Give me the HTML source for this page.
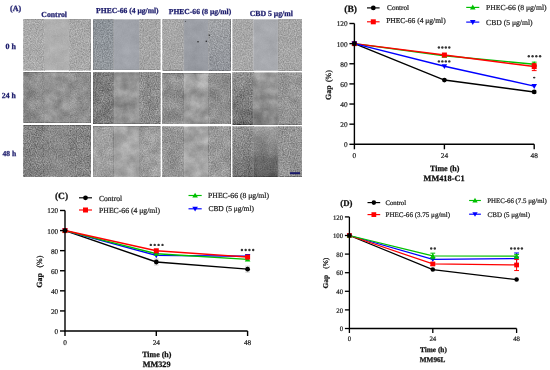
<!DOCTYPE html>
<html><head><meta charset="utf-8"><style>html,body{margin:0;padding:0;background:#fff;}body{width:550px;height:370px;overflow:hidden;}svg{display:block;font-family:"Liberation Serif",serif;will-change:transform;text-rendering:geometricPrecision;}</style></head><body>
<svg width="550" height="370" viewBox="0 0 550 370">
<defs>
<linearGradient id="lg0" x1="0" y1="0" x2="0" y2="1"><stop offset="0" stop-color="rgb(140,146,152)"/><stop offset="1" stop-color="rgb(148,153,158)"/></linearGradient>
<linearGradient id="lg1" x1="0" y1="0" x2="0" y2="1"><stop offset="0" stop-color="rgb(167,167,167)"/><stop offset="1" stop-color="rgb(164,164,164)"/></linearGradient>
<linearGradient id="lg2" x1="0" y1="0" x2="0" y2="1"><stop offset="0" stop-color="rgb(158,161,168)"/><stop offset="1" stop-color="rgb(150,153,160)"/></linearGradient>
<linearGradient id="lg3" x1="0" y1="0" x2="0" y2="1"><stop offset="0" stop-color="rgb(160,162,165)"/><stop offset="1" stop-color="rgb(146,149,155)"/></linearGradient>
<linearGradient id="lg4" x1="0" y1="0" x2="0" y2="1"><stop offset="0" stop-color="rgb(170,170,170)"/><stop offset="1" stop-color="rgb(146,146,146)"/></linearGradient>
<linearGradient id="lg5" x1="0" y1="0" x2="0" y2="1"><stop offset="0" stop-color="rgb(145,145,145)"/><stop offset="1" stop-color="rgb(105,105,105)"/></linearGradient>
<linearGradient id="lg6" x1="0" y1="0" x2="0" y2="1"><stop offset="0" stop-color="rgb(156,156,156)"/><stop offset="1" stop-color="rgb(126,126,126)"/></linearGradient>
<linearGradient id="lg7" x1="0" y1="0" x2="0" y2="1"><stop offset="0" stop-color="rgb(152,152,152)"/><stop offset="1" stop-color="rgb(150,150,150)"/></linearGradient>
<linearGradient id="lg8" x1="0" y1="0" x2="0" y2="1"><stop offset="0" stop-color="rgb(148,148,148)"/><stop offset="1" stop-color="rgb(112,112,112)"/></linearGradient>
<linearGradient id="lg9" x1="0" y1="0" x2="0" y2="1"><stop offset="0" stop-color="rgb(156,156,156)"/><stop offset="1" stop-color="rgb(88,88,88)"/></linearGradient>
<linearGradient id="lg10" x1="0" y1="0" x2="0" y2="1"><stop offset="0" stop-color="rgb(150,150,150)"/><stop offset="1" stop-color="rgb(146,146,146)"/></linearGradient>
<filter id="f3205" x="0" y="0" width="100%" height="100%" color-interpolation-filters="sRGB"><feTurbulence type="fractalNoise" baseFrequency="0.85" numOctaves="2" seed="3" result="n1"/><feColorMatrix in="n1" type="matrix" values="1 0 0 0 0  1 0 0 0 0  1 0 0 0 0  0 0 0 0 1" result="g1"/><feTurbulence type="fractalNoise" baseFrequency="0.09" numOctaves="3" seed="11" result="n2"/><feColorMatrix in="n2" type="matrix" values="1 0 0 0 0  1 0 0 0 0  1 0 0 0 0  0 0 0 0 1" result="g2"/><feComposite in="SourceGraphic" in2="g1" operator="arithmetic" k1="0" k2="1" k3="0.320" k4="-0.160" result="a"/><feComposite in="a" in2="g2" operator="arithmetic" k1="0" k2="1" k3="0.050" k4="-0.025" result="b"/><feGaussianBlur in="b" stdDeviation="0.45"/></filter>
<filter id="f0710" x="0" y="0" width="100%" height="100%" color-interpolation-filters="sRGB"><feTurbulence type="fractalNoise" baseFrequency="0.85" numOctaves="2" seed="3" result="n1"/><feColorMatrix in="n1" type="matrix" values="1 0 0 0 0  1 0 0 0 0  1 0 0 0 0  0 0 0 0 1" result="g1"/><feTurbulence type="fractalNoise" baseFrequency="0.09" numOctaves="3" seed="11" result="n2"/><feColorMatrix in="n2" type="matrix" values="1 0 0 0 0  1 0 0 0 0  1 0 0 0 0  0 0 0 0 1" result="g2"/><feComposite in="SourceGraphic" in2="g1" operator="arithmetic" k1="0" k2="1" k3="0.070" k4="-0.035" result="a"/><feComposite in="a" in2="g2" operator="arithmetic" k1="0" k2="1" k3="0.100" k4="-0.050" result="b"/><feGaussianBlur in="b" stdDeviation="0.45"/></filter>
<filter id="f3405" x="0" y="0" width="100%" height="100%" color-interpolation-filters="sRGB"><feTurbulence type="fractalNoise" baseFrequency="0.85" numOctaves="2" seed="3" result="n1"/><feColorMatrix in="n1" type="matrix" values="1 0 0 0 0  1 0 0 0 0  1 0 0 0 0  0 0 0 0 1" result="g1"/><feTurbulence type="fractalNoise" baseFrequency="0.09" numOctaves="3" seed="11" result="n2"/><feColorMatrix in="n2" type="matrix" values="1 0 0 0 0  1 0 0 0 0  1 0 0 0 0  0 0 0 0 1" result="g2"/><feComposite in="SourceGraphic" in2="g1" operator="arithmetic" k1="0" k2="1" k3="0.340" k4="-0.170" result="a"/><feComposite in="a" in2="g2" operator="arithmetic" k1="0" k2="1" k3="0.050" k4="-0.025" result="b"/><feGaussianBlur in="b" stdDeviation="0.45"/></filter>
<filter id="f0408" x="0" y="0" width="100%" height="100%" color-interpolation-filters="sRGB"><feTurbulence type="fractalNoise" baseFrequency="0.85" numOctaves="2" seed="3" result="n1"/><feColorMatrix in="n1" type="matrix" values="1 0 0 0 0  1 0 0 0 0  1 0 0 0 0  0 0 0 0 1" result="g1"/><feTurbulence type="fractalNoise" baseFrequency="0.09" numOctaves="3" seed="11" result="n2"/><feColorMatrix in="n2" type="matrix" values="1 0 0 0 0  1 0 0 0 0  1 0 0 0 0  0 0 0 0 1" result="g2"/><feComposite in="SourceGraphic" in2="g1" operator="arithmetic" k1="0" k2="1" k3="0.040" k4="-0.020" result="a"/><feComposite in="a" in2="g2" operator="arithmetic" k1="0" k2="1" k3="0.080" k4="-0.040" result="b"/><feGaussianBlur in="b" stdDeviation="0.45"/></filter>
<filter id="f3005" x="0" y="0" width="100%" height="100%" color-interpolation-filters="sRGB"><feTurbulence type="fractalNoise" baseFrequency="0.85" numOctaves="2" seed="3" result="n1"/><feColorMatrix in="n1" type="matrix" values="1 0 0 0 0  1 0 0 0 0  1 0 0 0 0  0 0 0 0 1" result="g1"/><feTurbulence type="fractalNoise" baseFrequency="0.09" numOctaves="3" seed="11" result="n2"/><feColorMatrix in="n2" type="matrix" values="1 0 0 0 0  1 0 0 0 0  1 0 0 0 0  0 0 0 0 1" result="g2"/><feComposite in="SourceGraphic" in2="g1" operator="arithmetic" k1="0" k2="1" k3="0.300" k4="-0.150" result="a"/><feComposite in="a" in2="g2" operator="arithmetic" k1="0" k2="1" k3="0.050" k4="-0.025" result="b"/><feGaussianBlur in="b" stdDeviation="0.45"/></filter>
<filter id="f2222" x="0" y="0" width="100%" height="100%" color-interpolation-filters="sRGB"><feTurbulence type="fractalNoise" baseFrequency="0.85" numOctaves="2" seed="3" result="n1"/><feColorMatrix in="n1" type="matrix" values="1 0 0 0 0  1 0 0 0 0  1 0 0 0 0  0 0 0 0 1" result="g1"/><feTurbulence type="fractalNoise" baseFrequency="0.09" numOctaves="3" seed="11" result="n2"/><feColorMatrix in="n2" type="matrix" values="1 0 0 0 0  1 0 0 0 0  1 0 0 0 0  0 0 0 0 1" result="g2"/><feComposite in="SourceGraphic" in2="g1" operator="arithmetic" k1="0" k2="1" k3="0.220" k4="-0.110" result="a"/><feComposite in="a" in2="g2" operator="arithmetic" k1="0" k2="1" k3="0.220" k4="-0.110" result="b"/><feGaussianBlur in="b" stdDeviation="0.45"/></filter>
<filter id="f1228" x="0" y="0" width="100%" height="100%" color-interpolation-filters="sRGB"><feTurbulence type="fractalNoise" baseFrequency="0.85" numOctaves="2" seed="3" result="n1"/><feColorMatrix in="n1" type="matrix" values="1 0 0 0 0  1 0 0 0 0  1 0 0 0 0  0 0 0 0 1" result="g1"/><feTurbulence type="fractalNoise" baseFrequency="0.09" numOctaves="3" seed="11" result="n2"/><feColorMatrix in="n2" type="matrix" values="1 0 0 0 0  1 0 0 0 0  1 0 0 0 0  0 0 0 0 1" result="g2"/><feComposite in="SourceGraphic" in2="g1" operator="arithmetic" k1="0" k2="1" k3="0.120" k4="-0.060" result="a"/><feComposite in="a" in2="g2" operator="arithmetic" k1="0" k2="1" k3="0.280" k4="-0.140" result="b"/><feGaussianBlur in="b" stdDeviation="0.45"/></filter>
<filter id="f4115" x="0" y="0" width="100%" height="100%" color-interpolation-filters="sRGB"><feTurbulence type="fractalNoise" baseFrequency="0.85" numOctaves="2" seed="3" result="n1"/><feColorMatrix in="n1" type="matrix" values="1 0 0 0 0  1 0 0 0 0  1 0 0 0 0  0 0 0 0 1" result="g1"/><feTurbulence type="fractalNoise" baseFrequency="0.09" numOctaves="3" seed="11" result="n2"/><feColorMatrix in="n2" type="matrix" values="1 0 0 0 0  1 0 0 0 0  1 0 0 0 0  0 0 0 0 1" result="g2"/><feComposite in="SourceGraphic" in2="g1" operator="arithmetic" k1="0" k2="1" k3="0.410" k4="-0.205" result="a"/><feComposite in="a" in2="g2" operator="arithmetic" k1="0" k2="1" k3="0.150" k4="-0.075" result="b"/><feGaussianBlur in="b" stdDeviation="0.45"/></filter>
<filter id="f0730" x="0" y="0" width="100%" height="100%" color-interpolation-filters="sRGB"><feTurbulence type="fractalNoise" baseFrequency="0.85" numOctaves="2" seed="3" result="n1"/><feColorMatrix in="n1" type="matrix" values="1 0 0 0 0  1 0 0 0 0  1 0 0 0 0  0 0 0 0 1" result="g1"/><feTurbulence type="fractalNoise" baseFrequency="0.09" numOctaves="3" seed="11" result="n2"/><feColorMatrix in="n2" type="matrix" values="1 0 0 0 0  1 0 0 0 0  1 0 0 0 0  0 0 0 0 1" result="g2"/><feComposite in="SourceGraphic" in2="g1" operator="arithmetic" k1="0" k2="1" k3="0.070" k4="-0.035" result="a"/><feComposite in="a" in2="g2" operator="arithmetic" k1="0" k2="1" k3="0.300" k4="-0.150" result="b"/><feGaussianBlur in="b" stdDeviation="0.45"/></filter>
<filter id="f2720" x="0" y="0" width="100%" height="100%" color-interpolation-filters="sRGB"><feTurbulence type="fractalNoise" baseFrequency="0.85" numOctaves="2" seed="3" result="n1"/><feColorMatrix in="n1" type="matrix" values="1 0 0 0 0  1 0 0 0 0  1 0 0 0 0  0 0 0 0 1" result="g1"/><feTurbulence type="fractalNoise" baseFrequency="0.09" numOctaves="3" seed="11" result="n2"/><feColorMatrix in="n2" type="matrix" values="1 0 0 0 0  1 0 0 0 0  1 0 0 0 0  0 0 0 0 1" result="g2"/><feComposite in="SourceGraphic" in2="g1" operator="arithmetic" k1="0" k2="1" k3="0.270" k4="-0.135" result="a"/><feComposite in="a" in2="g2" operator="arithmetic" k1="0" k2="1" k3="0.200" k4="-0.100" result="b"/><feGaussianBlur in="b" stdDeviation="0.45"/></filter>
<filter id="f4120" x="0" y="0" width="100%" height="100%" color-interpolation-filters="sRGB"><feTurbulence type="fractalNoise" baseFrequency="0.85" numOctaves="2" seed="3" result="n1"/><feColorMatrix in="n1" type="matrix" values="1 0 0 0 0  1 0 0 0 0  1 0 0 0 0  0 0 0 0 1" result="g1"/><feTurbulence type="fractalNoise" baseFrequency="0.09" numOctaves="3" seed="11" result="n2"/><feColorMatrix in="n2" type="matrix" values="1 0 0 0 0  1 0 0 0 0  1 0 0 0 0  0 0 0 0 1" result="g2"/><feComposite in="SourceGraphic" in2="g1" operator="arithmetic" k1="0" k2="1" k3="0.410" k4="-0.205" result="a"/><feComposite in="a" in2="g2" operator="arithmetic" k1="0" k2="1" k3="0.200" k4="-0.100" result="b"/><feGaussianBlur in="b" stdDeviation="0.45"/></filter>
<filter id="f3415" x="0" y="0" width="100%" height="100%" color-interpolation-filters="sRGB"><feTurbulence type="fractalNoise" baseFrequency="0.85" numOctaves="2" seed="3" result="n1"/><feColorMatrix in="n1" type="matrix" values="1 0 0 0 0  1 0 0 0 0  1 0 0 0 0  0 0 0 0 1" result="g1"/><feTurbulence type="fractalNoise" baseFrequency="0.09" numOctaves="3" seed="11" result="n2"/><feColorMatrix in="n2" type="matrix" values="1 0 0 0 0  1 0 0 0 0  1 0 0 0 0  0 0 0 0 1" result="g2"/><feComposite in="SourceGraphic" in2="g1" operator="arithmetic" k1="0" k2="1" k3="0.340" k4="-0.170" result="a"/><feComposite in="a" in2="g2" operator="arithmetic" k1="0" k2="1" k3="0.150" k4="-0.075" result="b"/><feGaussianBlur in="b" stdDeviation="0.45"/></filter>
<filter id="f4710" x="0" y="0" width="100%" height="100%" color-interpolation-filters="sRGB"><feTurbulence type="fractalNoise" baseFrequency="0.85" numOctaves="2" seed="3" result="n1"/><feColorMatrix in="n1" type="matrix" values="1 0 0 0 0  1 0 0 0 0  1 0 0 0 0  0 0 0 0 1" result="g1"/><feTurbulence type="fractalNoise" baseFrequency="0.09" numOctaves="3" seed="11" result="n2"/><feColorMatrix in="n2" type="matrix" values="1 0 0 0 0  1 0 0 0 0  1 0 0 0 0  0 0 0 0 1" result="g2"/><feComposite in="SourceGraphic" in2="g1" operator="arithmetic" k1="0" k2="1" k3="0.470" k4="-0.235" result="a"/><feComposite in="a" in2="g2" operator="arithmetic" k1="0" k2="1" k3="0.100" k4="-0.050" result="b"/><feGaussianBlur in="b" stdDeviation="0.45"/></filter>
<filter id="f3412" x="0" y="0" width="100%" height="100%" color-interpolation-filters="sRGB"><feTurbulence type="fractalNoise" baseFrequency="0.85" numOctaves="2" seed="3" result="n1"/><feColorMatrix in="n1" type="matrix" values="1 0 0 0 0  1 0 0 0 0  1 0 0 0 0  0 0 0 0 1" result="g1"/><feTurbulence type="fractalNoise" baseFrequency="0.09" numOctaves="3" seed="11" result="n2"/><feColorMatrix in="n2" type="matrix" values="1 0 0 0 0  1 0 0 0 0  1 0 0 0 0  0 0 0 0 1" result="g2"/><feComposite in="SourceGraphic" in2="g1" operator="arithmetic" k1="0" k2="1" k3="0.340" k4="-0.170" result="a"/><feComposite in="a" in2="g2" operator="arithmetic" k1="0" k2="1" k3="0.120" k4="-0.060" result="b"/><feGaussianBlur in="b" stdDeviation="0.45"/></filter>
<filter id="f0725" x="0" y="0" width="100%" height="100%" color-interpolation-filters="sRGB"><feTurbulence type="fractalNoise" baseFrequency="0.85" numOctaves="2" seed="3" result="n1"/><feColorMatrix in="n1" type="matrix" values="1 0 0 0 0  1 0 0 0 0  1 0 0 0 0  0 0 0 0 1" result="g1"/><feTurbulence type="fractalNoise" baseFrequency="0.09" numOctaves="3" seed="11" result="n2"/><feColorMatrix in="n2" type="matrix" values="1 0 0 0 0  1 0 0 0 0  1 0 0 0 0  0 0 0 0 1" result="g2"/><feComposite in="SourceGraphic" in2="g1" operator="arithmetic" k1="0" k2="1" k3="0.070" k4="-0.035" result="a"/><feComposite in="a" in2="g2" operator="arithmetic" k1="0" k2="1" k3="0.250" k4="-0.125" result="b"/><feGaussianBlur in="b" stdDeviation="0.45"/></filter>
<filter id="f4110" x="0" y="0" width="100%" height="100%" color-interpolation-filters="sRGB"><feTurbulence type="fractalNoise" baseFrequency="0.85" numOctaves="2" seed="3" result="n1"/><feColorMatrix in="n1" type="matrix" values="1 0 0 0 0  1 0 0 0 0  1 0 0 0 0  0 0 0 0 1" result="g1"/><feTurbulence type="fractalNoise" baseFrequency="0.09" numOctaves="3" seed="11" result="n2"/><feColorMatrix in="n2" type="matrix" values="1 0 0 0 0  1 0 0 0 0  1 0 0 0 0  0 0 0 0 1" result="g2"/><feComposite in="SourceGraphic" in2="g1" operator="arithmetic" k1="0" k2="1" k3="0.410" k4="-0.205" result="a"/><feComposite in="a" in2="g2" operator="arithmetic" k1="0" k2="1" k3="0.100" k4="-0.050" result="b"/><feGaussianBlur in="b" stdDeviation="0.45"/></filter>
<filter id="f2015" x="0" y="0" width="100%" height="100%" color-interpolation-filters="sRGB"><feTurbulence type="fractalNoise" baseFrequency="0.85" numOctaves="2" seed="3" result="n1"/><feColorMatrix in="n1" type="matrix" values="1 0 0 0 0  1 0 0 0 0  1 0 0 0 0  0 0 0 0 1" result="g1"/><feTurbulence type="fractalNoise" baseFrequency="0.09" numOctaves="3" seed="11" result="n2"/><feColorMatrix in="n2" type="matrix" values="1 0 0 0 0  1 0 0 0 0  1 0 0 0 0  0 0 0 0 1" result="g2"/><feComposite in="SourceGraphic" in2="g1" operator="arithmetic" k1="0" k2="1" k3="0.200" k4="-0.100" result="a"/><feComposite in="a" in2="g2" operator="arithmetic" k1="0" k2="1" k3="0.150" k4="-0.075" result="b"/><feGaussianBlur in="b" stdDeviation="0.45"/></filter>
</defs>
<rect x="23.70" y="19.40" width="20.90" height="50.70" fill="rgb(170,170,170)" filter="url(#f3205)"/>
<rect x="44.60" y="19.40" width="24.80" height="50.70" fill="rgb(175,175,175)" filter="url(#f0710)"/>
<rect x="69.40" y="19.40" width="21.50" height="50.70" fill="rgb(168,168,168)" filter="url(#f3205)"/>
<rect x="44.20" y="19.40" width="0.8" height="50.70" fill="#fff" opacity="0.3"/>
<rect x="69.00" y="19.40" width="0.8" height="50.70" fill="#fff" opacity="0.3"/>
<rect x="93.10" y="19.50" width="20.60" height="50.40" fill="url(#lg0)" filter="url(#f3405)"/>
<rect x="113.70" y="19.50" width="25.90" height="50.40" fill="rgb(160,163,170)" filter="url(#f0408)"/>
<rect x="139.60" y="19.50" width="20.50" height="50.40" fill="rgb(165,165,165)" filter="url(#f3205)"/>
<rect x="113.30" y="19.50" width="0.8" height="50.40" fill="#fff" opacity="0.3"/>
<rect x="139.20" y="19.50" width="0.8" height="50.40" fill="#fff" opacity="0.3"/>
<rect x="162.70" y="19.00" width="21.00" height="51.80" fill="url(#lg1)" filter="url(#f3005)"/>
<rect x="183.70" y="19.00" width="25.00" height="51.80" fill="url(#lg2)" filter="url(#f0408)"/>
<rect x="208.70" y="19.00" width="22.10" height="51.80" fill="url(#lg3)" filter="url(#f3405)"/>
<rect x="183.30" y="19.00" width="0.8" height="51.80" fill="#fff" opacity="0.3"/>
<rect x="208.30" y="19.00" width="0.8" height="51.80" fill="#fff" opacity="0.3"/>
<rect x="232.90" y="19.50" width="20.40" height="51.10" fill="rgb(167,167,167)" filter="url(#f3005)"/>
<rect x="253.30" y="19.50" width="24.90" height="51.10" fill="rgb(168,170,175)" filter="url(#f0408)"/>
<rect x="278.20" y="19.50" width="23.80" height="51.10" fill="rgb(165,165,165)" filter="url(#f3205)"/>
<rect x="252.90" y="19.50" width="0.8" height="51.10" fill="#fff" opacity="0.3"/>
<rect x="277.80" y="19.50" width="0.8" height="51.10" fill="#fff" opacity="0.3"/>
<rect x="23.70" y="72.30" width="20.90" height="50.50" fill="rgb(141,141,141)" filter="url(#f2222)"/>
<rect x="44.60" y="72.30" width="24.80" height="50.50" fill="rgb(149,149,149)" filter="url(#f1228)"/>
<rect x="69.40" y="72.30" width="21.50" height="50.50" fill="rgb(143,143,143)" filter="url(#f2222)"/>
<rect x="44.20" y="72.30" width="0.8" height="50.50" fill="#fff" opacity="0.3"/>
<rect x="69.00" y="72.30" width="0.8" height="50.50" fill="#fff" opacity="0.3"/>
<rect x="93.10" y="72.70" width="20.60" height="51.10" fill="rgb(125,125,125)" filter="url(#f4115)"/>
<rect x="113.70" y="72.70" width="25.90" height="51.10" fill="rgb(146,146,146)" filter="url(#f0730)"/>
<rect x="139.60" y="72.70" width="20.50" height="51.10" fill="rgb(141,141,141)" filter="url(#f4115)"/>
<rect x="113.30" y="72.70" width="0.8" height="51.10" fill="#fff" opacity="0.3"/>
<rect x="139.20" y="72.70" width="0.8" height="51.10" fill="#fff" opacity="0.3"/>
<rect x="162.70" y="73.20" width="21.00" height="50.80" fill="rgb(142,142,142)" filter="url(#f2720)"/>
<rect x="183.70" y="73.20" width="25.00" height="50.80" fill="url(#lg4)" filter="url(#f0730)"/>
<rect x="208.70" y="73.20" width="22.10" height="50.80" fill="rgb(142,142,142)" filter="url(#f2720)"/>
<rect x="183.30" y="73.20" width="0.8" height="50.80" fill="#fff" opacity="0.3"/>
<rect x="208.30" y="73.20" width="0.8" height="50.80" fill="#fff" opacity="0.3"/>
<rect x="232.90" y="72.90" width="20.40" height="51.80" fill="url(#lg5)" filter="url(#f4120)"/>
<rect x="253.30" y="72.90" width="24.90" height="51.80" fill="url(#lg6)" filter="url(#f0730)"/>
<rect x="278.20" y="72.90" width="23.80" height="51.80" fill="url(#lg7)" filter="url(#f3415)"/>
<rect x="252.90" y="72.90" width="0.8" height="51.80" fill="#fff" opacity="0.3"/>
<rect x="277.80" y="72.90" width="0.8" height="51.80" fill="#fff" opacity="0.3"/>
<rect x="23.70" y="125.30" width="20.90" height="51.10" fill="rgb(130,130,130)" filter="url(#f4710)"/>
<rect x="44.60" y="125.30" width="24.80" height="51.10" fill="rgb(137,137,137)" filter="url(#f3412)"/>
<rect x="69.40" y="125.30" width="21.50" height="51.10" fill="rgb(133,133,133)" filter="url(#f4710)"/>
<rect x="44.20" y="125.30" width="0.8" height="51.10" fill="#fff" opacity="0.3"/>
<rect x="69.00" y="125.30" width="0.8" height="51.10" fill="#fff" opacity="0.3"/>
<rect x="93.10" y="126.20" width="20.60" height="50.30" fill="rgb(159,159,159)" filter="url(#f2720)"/>
<rect x="113.70" y="126.20" width="25.90" height="50.30" fill="rgb(166,166,166)" filter="url(#f0725)"/>
<rect x="139.60" y="126.20" width="20.50" height="50.30" fill="rgb(157,157,157)" filter="url(#f2720)"/>
<rect x="113.30" y="126.20" width="0.8" height="50.30" fill="#fff" opacity="0.3"/>
<rect x="139.20" y="126.20" width="0.8" height="50.30" fill="#fff" opacity="0.3"/>
<rect x="162.70" y="126.80" width="21.00" height="50.20" fill="rgb(148,148,148)" filter="url(#f3415)"/>
<rect x="183.70" y="126.80" width="25.00" height="50.20" fill="rgb(164,164,164)" filter="url(#f0725)"/>
<rect x="208.70" y="126.80" width="22.10" height="50.20" fill="rgb(152,152,152)" filter="url(#f3415)"/>
<rect x="183.30" y="126.80" width="0.8" height="50.20" fill="#fff" opacity="0.3"/>
<rect x="208.30" y="126.80" width="0.8" height="50.20" fill="#fff" opacity="0.3"/>
<rect x="232.90" y="126.90" width="20.40" height="49.90" fill="url(#lg8)" filter="url(#f4110)"/>
<rect x="253.30" y="126.90" width="24.90" height="49.90" fill="url(#lg9)" filter="url(#f2015)"/>
<rect x="278.20" y="126.90" width="23.80" height="49.90" fill="url(#lg10)" filter="url(#f4110)"/>
<rect x="252.90" y="126.90" width="0.8" height="49.90" fill="#fff" opacity="0.3"/>
<rect x="277.80" y="126.90" width="0.8" height="49.90" fill="#fff" opacity="0.3"/>
<ellipse cx="198.0" cy="41.7" rx="0.8" ry="0.8" fill="#1a1a1a" opacity="0.90"/>
<ellipse cx="206.3" cy="41.2" rx="0.8" ry="0.8" fill="#1a1a1a" opacity="0.90"/>
<ellipse cx="209.3" cy="35.2" rx="0.8" ry="0.8" fill="#1a1a1a" opacity="0.85"/>
<ellipse cx="185.5" cy="21.3" rx="0.6" ry="0.6" fill="#333" opacity="0.70"/>
<rect x="290" y="172.2" width="10" height="2" fill="#1b1b6b"/>
<text x="10.00" y="10.60" font-size="7.998" font-weight="bold" fill="#1b1b6b" stroke="#1b1b6b" stroke-width="0.25">(A)</text>
<text x="41.30" y="16.60" font-size="7.743" font-weight="bold" fill="#1b1b6b" stroke="#1b1b6b" stroke-width="0.25">Control</text>
<text x="96.10" y="13.30" font-size="7.608" font-weight="bold" fill="#1b1b6b" stroke="#1b1b6b" stroke-width="0.25">PHEC-66 (4 &#956;g/ml)</text>
<text x="168.80" y="13.90" font-size="7.581" font-weight="bold" fill="#1b1b6b" stroke="#1b1b6b" stroke-width="0.25">PHEC-66 (8 &#956;g/ml)</text>
<text x="249.70" y="15.70" font-size="7.764" font-weight="bold" fill="#1b1b6b" stroke="#1b1b6b" stroke-width="0.25">CBD 5 &#956;g/ml</text>
<text x="5.50" y="48.90" font-size="8.044" font-weight="bold" fill="#1b1b6b" stroke="#1b1b6b" stroke-width="0.25">0 h</text>
<text x="1.80" y="97.80" font-size="7.729" font-weight="bold" fill="#1b1b6b" stroke="#1b1b6b" stroke-width="0.25">24 h</text>
<text x="2.60" y="156.20" font-size="7.556" font-weight="bold" fill="#1b1b6b" stroke="#1b1b6b" stroke-width="0.25">48 h</text>
<text x="344.30" y="12.00" font-size="9.576" font-weight="bold" fill="#111" stroke="#111" stroke-width="0.25">(B)</text>
<text x="387.10" y="10.10" font-size="7.200" font-weight="normal" fill="#222" stroke="#222" stroke-width="0.22">Control</text>
<text x="386.20" y="23.40" font-size="7.503" font-weight="normal" fill="#222" stroke="#222" stroke-width="0.22">PHEC-66 (4 &#956;g/ml)</text>
<text x="486.00" y="10.10" font-size="7.653" font-weight="normal" fill="#222" stroke="#222" stroke-width="0.22">PHEC-66 (8 &#956;g/ml)</text>
<text x="486.10" y="24.60" font-size="7.633" font-weight="normal" fill="#222" stroke="#222" stroke-width="0.22">CBD (5 &#956;g/ml)</text>
<text x="430.00" y="170.50" font-size="8.000" font-weight="bold" fill="#111" stroke="#111" stroke-width="0.25">Time (h)</text>
<text x="423.60" y="180.50" font-size="8.290" font-weight="bold" fill="#111" stroke="#111" stroke-width="0.25">MM418-C1</text>
<text transform="translate(330.90 99.90) rotate(-90)" font-size="7.900" font-weight="normal" fill="#111" stroke="#111" stroke-width="0.22"><tspan font-weight="bold">Gap</tspan><tspan dx="1.40"> (%)</tspan></text>
<text x="54.90" y="198.80" font-size="9.526" font-weight="bold" fill="#111" stroke="#111" stroke-width="0.25">(C)</text>
<text x="98.90" y="201.10" font-size="7.619" font-weight="normal" fill="#222" stroke="#222" stroke-width="0.22">Control</text>
<text x="99.10" y="213.10" font-size="7.708" font-weight="normal" fill="#222" stroke="#222" stroke-width="0.22">PHEC-66 (4 &#956;g/ml)</text>
<text x="208.10" y="198.20" font-size="7.708" font-weight="normal" fill="#222" stroke="#222" stroke-width="0.22">PHEC-66 (8 &#956;g/ml)</text>
<text x="208.40" y="211.40" font-size="7.499" font-weight="normal" fill="#222" stroke="#222" stroke-width="0.22">CBD (5 &#956;g/ml)</text>
<text x="142.20" y="356.60" font-size="7.950" font-weight="bold" fill="#111" stroke="#111" stroke-width="0.25">Time (h)</text>
<text x="142.70" y="367.10" font-size="8.241" font-weight="bold" fill="#111" stroke="#111" stroke-width="0.25">MM329</text>
<text transform="translate(42.40 287.70) rotate(-90)" font-size="7.900" font-weight="normal" fill="#111" stroke="#111" stroke-width="0.22"><tspan font-weight="bold">Gap</tspan><tspan dx="3.70"> (%)</tspan></text>
<text x="340.30" y="206.00" font-size="8.777" font-weight="bold" fill="#111" stroke="#111" stroke-width="0.25">(D)</text>
<text x="385.40" y="204.80" font-size="6.771" font-weight="normal" fill="#222" stroke="#222" stroke-width="0.22">Control</text>
<text x="385.50" y="217.20" font-size="7.064" font-weight="normal" fill="#222" stroke="#222" stroke-width="0.22">PHEC-66 (3.75 &#956;g/ml)</text>
<text x="487.20" y="202.80" font-size="6.878" font-weight="normal" fill="#222" stroke="#222" stroke-width="0.22">PHEC-66 (7.5 &#956;g/ml)</text>
<text x="487.60" y="217.30" font-size="6.973" font-weight="normal" fill="#222" stroke="#222" stroke-width="0.22">CBD (5 &#956;g/ml)</text>
<text x="420.00" y="351.70" font-size="7.300" font-weight="bold" fill="#111" stroke="#111" stroke-width="0.25">Time (h)</text>
<text x="419.80" y="361.60" font-size="7.216" font-weight="bold" fill="#111" stroke="#111" stroke-width="0.25">MM96L</text>
<text transform="translate(327.60 288.40) rotate(-90)" font-size="7.300" font-weight="normal" fill="#111" stroke="#111" stroke-width="0.22"><tspan font-weight="bold">Gap</tspan><tspan dx="4.40"> (%)</tspan></text>
<polyline points="354.40,43.63 444.40,80.07 534.20,91.95" fill="none" stroke="#000" stroke-width="1.45"/>
<polyline points="354.40,43.63 444.40,55.71 534.20,64.17" fill="none" stroke="#00c000" stroke-width="1.45"/>
<polyline points="354.40,43.63 444.40,55.01 534.20,66.58" fill="none" stroke="#ff0000" stroke-width="1.45"/>
<polyline points="354.40,43.63 444.40,66.28 534.20,86.11" fill="none" stroke="#0000ff" stroke-width="1.45"/>
<path d="M354.40 40.83L357.20 45.73L351.60 45.73Z" fill="#00c000"/>
<rect x="351.90" y="41.13" width="5.00" height="5.00" fill="#ff0000"/>
<path d="M354.40 46.43L357.20 41.53L351.60 41.53Z" fill="#0000ff"/>
<circle cx="354.40" cy="43.63" r="2.40" fill="#000"/>
<circle cx="444.40" cy="80.07" r="2.40" fill="#000"/>
<path d="M444.40 52.91L447.20 57.81L441.60 57.81Z" fill="#00c000"/>
<rect x="441.90" y="52.51" width="5.00" height="5.00" fill="#ff0000"/>
<path d="M444.40 69.08L447.20 64.18L441.60 64.18Z" fill="#0000ff"/>
<path d="M534.20 90.44V93.46M531.80 90.44H536.60M531.80 93.46H536.60" stroke="#999" stroke-width="0.45" fill="none"/>
<circle cx="534.20" cy="91.95" r="2.40" fill="#000"/>
<path d="M534.20 62.15V66.18M531.80 62.15H536.60M531.80 66.18H536.60" stroke="#00c000" stroke-width="1.00" fill="none"/>
<path d="M534.20 61.37L537.00 66.27L531.40 66.27Z" fill="#00c000"/>
<path d="M534.20 63.66V70.61M531.80 63.66H536.60M531.80 70.61H536.60" stroke="#ff0000" stroke-width="1.00" fill="none"/>
<rect x="531.70" y="64.08" width="5.00" height="5.00" fill="#ff0000"/>
<path d="M534.20 88.91L537.00 84.01L531.40 84.01Z" fill="#0000ff"/>
<path d="M354.40 23.50V144.30H534.20" stroke="#000" stroke-width="1.40" fill="none"/>
<path d="M349.40 144.30H354.40" stroke="#000" stroke-width="1.40"/>
<text x="347.60" y="147.22" font-size="7.30" font-weight="normal" text-anchor="end" fill="#222"  stroke="#222" stroke-width="0.22">0</text>
<path d="M349.40 124.17H354.40" stroke="#000" stroke-width="1.40"/>
<text x="347.60" y="127.09" font-size="7.30" font-weight="normal" text-anchor="end" fill="#222"  stroke="#222" stroke-width="0.22">20</text>
<path d="M349.40 104.03H354.40" stroke="#000" stroke-width="1.40"/>
<text x="347.60" y="106.95" font-size="7.30" font-weight="normal" text-anchor="end" fill="#222"  stroke="#222" stroke-width="0.22">40</text>
<path d="M349.40 83.90H354.40" stroke="#000" stroke-width="1.40"/>
<text x="347.60" y="86.82" font-size="7.30" font-weight="normal" text-anchor="end" fill="#222"  stroke="#222" stroke-width="0.22">60</text>
<path d="M349.40 63.76H354.40" stroke="#000" stroke-width="1.40"/>
<text x="347.60" y="66.68" font-size="7.30" font-weight="normal" text-anchor="end" fill="#222"  stroke="#222" stroke-width="0.22">80</text>
<path d="M349.40 43.63H354.40" stroke="#000" stroke-width="1.40"/>
<text x="347.60" y="46.55" font-size="7.30" font-weight="normal" text-anchor="end" fill="#222"  stroke="#222" stroke-width="0.22">100</text>
<path d="M349.40 23.50H354.40" stroke="#000" stroke-width="1.40"/>
<text x="347.60" y="26.42" font-size="7.30" font-weight="normal" text-anchor="end" fill="#222"  stroke="#222" stroke-width="0.22">120</text>
<path d="M354.40 144.30V149.30" stroke="#000" stroke-width="1.40"/>
<text x="354.40" y="158.11" font-size="7.30" font-weight="normal" text-anchor="middle" fill="#222"  stroke="#222" stroke-width="0.22">0</text>
<path d="M444.40 144.30V149.30" stroke="#000" stroke-width="1.40"/>
<text x="444.40" y="158.11" font-size="7.30" font-weight="normal" text-anchor="middle" fill="#222"  stroke="#222" stroke-width="0.22">24</text>
<path d="M534.20 144.30V149.30" stroke="#000" stroke-width="1.40"/>
<text x="534.20" y="158.11" font-size="7.30" font-weight="normal" text-anchor="middle" fill="#222"  stroke="#222" stroke-width="0.22">48</text>
<path d="M367.00 7.90H379.60" stroke="#000" stroke-width="1.15"/>
<circle cx="373.30" cy="7.90" r="2.40" fill="#000"/>
<path d="M367.00 21.80H379.60" stroke="#ff0000" stroke-width="1.15"/>
<rect x="370.80" y="19.30" width="5.00" height="5.00" fill="#ff0000"/>
<path d="M466.20 7.40H479.30" stroke="#00c000" stroke-width="1.15"/>
<path d="M472.75 4.60L475.55 9.50L469.95 9.50Z" fill="#00c000"/>
<path d="M466.20 22.10H479.30" stroke="#0000ff" stroke-width="1.15"/>
<path d="M472.75 24.90L475.55 20.00L469.95 20.00Z" fill="#0000ff"/>
<circle cx="438.90" cy="47.50" r="1.20" fill="#333"/>
<circle cx="442.37" cy="47.50" r="1.20" fill="#333"/>
<circle cx="445.83" cy="47.50" r="1.20" fill="#333"/>
<circle cx="449.30" cy="47.50" r="1.20" fill="#333"/>
<circle cx="438.90" cy="61.40" r="1.20" fill="#333"/>
<circle cx="442.37" cy="61.40" r="1.20" fill="#333"/>
<circle cx="445.83" cy="61.40" r="1.20" fill="#333"/>
<circle cx="449.30" cy="61.40" r="1.20" fill="#333"/>
<circle cx="528.80" cy="56.20" r="1.20" fill="#333"/>
<circle cx="532.57" cy="56.20" r="1.20" fill="#333"/>
<circle cx="536.33" cy="56.20" r="1.20" fill="#333"/>
<circle cx="540.10" cy="56.20" r="1.20" fill="#333"/>
<ellipse cx="534.20" cy="77.60" rx="1.26" ry="0.90" fill="#333"/>
<polyline points="65.00,230.58 156.30,262.01 247.60,269.14" fill="none" stroke="#000" stroke-width="1.45"/>
<polyline points="65.00,230.58 156.30,255.38 247.60,256.19" fill="none" stroke="#0000ff" stroke-width="1.45"/>
<polyline points="65.00,230.58 156.30,253.68 247.60,259.40" fill="none" stroke="#00c000" stroke-width="1.45"/>
<polyline points="65.00,230.58 156.30,250.76 247.60,257.09" fill="none" stroke="#ff0000" stroke-width="1.45"/>
<path d="M65.00 233.38L67.80 228.48L62.20 228.48Z" fill="#0000ff"/>
<path d="M65.00 227.78L67.80 232.68L62.20 232.68Z" fill="#00c000"/>
<rect x="62.50" y="228.08" width="5.00" height="5.00" fill="#ff0000"/>
<circle cx="65.00" cy="230.58" r="2.40" fill="#000"/>
<path d="M156.30 259.00V265.02M153.90 259.00H158.70M153.90 265.02H158.70" stroke="#999" stroke-width="0.45" fill="none"/>
<circle cx="156.30" cy="262.01" r="2.40" fill="#000"/>
<path d="M156.30 258.18L159.10 253.28L153.50 253.28Z" fill="#0000ff"/>
<path d="M156.30 250.88L159.10 255.78L153.50 255.78Z" fill="#00c000"/>
<rect x="153.80" y="248.26" width="5.00" height="5.00" fill="#ff0000"/>
<path d="M247.60 266.13V272.15M245.20 266.13H250.00M245.20 272.15H250.00" stroke="#999" stroke-width="0.45" fill="none"/>
<circle cx="247.60" cy="269.14" r="2.40" fill="#000"/>
<path d="M247.60 258.99L250.40 254.09L244.80 254.09Z" fill="#0000ff"/>
<path d="M247.60 256.60L250.40 261.50L244.80 261.50Z" fill="#00c000"/>
<rect x="245.10" y="254.59" width="5.00" height="5.00" fill="#ff0000"/>
<path d="M65.00 210.50V331.00H247.60" stroke="#000" stroke-width="1.40" fill="none"/>
<path d="M60.00 331.00H65.00" stroke="#000" stroke-width="1.40"/>
<text x="58.20" y="333.92" font-size="7.30" font-weight="normal" text-anchor="end" fill="#222"  stroke="#222" stroke-width="0.22">0</text>
<path d="M60.00 310.92H65.00" stroke="#000" stroke-width="1.40"/>
<text x="58.20" y="313.84" font-size="7.30" font-weight="normal" text-anchor="end" fill="#222"  stroke="#222" stroke-width="0.22">20</text>
<path d="M60.00 290.83H65.00" stroke="#000" stroke-width="1.40"/>
<text x="58.20" y="293.75" font-size="7.30" font-weight="normal" text-anchor="end" fill="#222"  stroke="#222" stroke-width="0.22">40</text>
<path d="M60.00 270.75H65.00" stroke="#000" stroke-width="1.40"/>
<text x="58.20" y="273.67" font-size="7.30" font-weight="normal" text-anchor="end" fill="#222"  stroke="#222" stroke-width="0.22">60</text>
<path d="M60.00 250.66H65.00" stroke="#000" stroke-width="1.40"/>
<text x="58.20" y="253.58" font-size="7.30" font-weight="normal" text-anchor="end" fill="#222"  stroke="#222" stroke-width="0.22">80</text>
<path d="M60.00 230.58H65.00" stroke="#000" stroke-width="1.40"/>
<text x="58.20" y="233.50" font-size="7.30" font-weight="normal" text-anchor="end" fill="#222"  stroke="#222" stroke-width="0.22">100</text>
<path d="M60.00 210.50H65.00" stroke="#000" stroke-width="1.40"/>
<text x="58.20" y="213.42" font-size="7.30" font-weight="normal" text-anchor="end" fill="#222"  stroke="#222" stroke-width="0.22">120</text>
<path d="M65.00 331.00V336.00" stroke="#000" stroke-width="1.40"/>
<text x="65.00" y="344.61" font-size="7.30" font-weight="normal" text-anchor="middle" fill="#222"  stroke="#222" stroke-width="0.22">0</text>
<path d="M156.30 331.00V336.00" stroke="#000" stroke-width="1.40"/>
<text x="156.30" y="344.61" font-size="7.30" font-weight="normal" text-anchor="middle" fill="#222"  stroke="#222" stroke-width="0.22">24</text>
<path d="M247.60 331.00V336.00" stroke="#000" stroke-width="1.40"/>
<text x="247.60" y="344.61" font-size="7.30" font-weight="normal" text-anchor="middle" fill="#222"  stroke="#222" stroke-width="0.22">48</text>
<path d="M79.00 197.80H92.00" stroke="#000" stroke-width="1.15"/>
<circle cx="85.50" cy="197.80" r="2.40" fill="#000"/>
<path d="M79.00 210.00H92.00" stroke="#ff0000" stroke-width="1.15"/>
<rect x="83.00" y="207.50" width="5.00" height="5.00" fill="#ff0000"/>
<path d="M188.50 195.50H201.70" stroke="#00c000" stroke-width="1.15"/>
<path d="M195.10 192.70L197.90 197.60L192.30 197.60Z" fill="#00c000"/>
<path d="M188.50 208.80H201.70" stroke="#0000ff" stroke-width="1.15"/>
<path d="M195.10 211.60L197.90 206.70L192.30 206.70Z" fill="#0000ff"/>
<circle cx="150.80" cy="244.90" r="1.20" fill="#333"/>
<circle cx="154.70" cy="244.90" r="1.20" fill="#333"/>
<circle cx="158.60" cy="244.90" r="1.20" fill="#333"/>
<circle cx="162.50" cy="244.90" r="1.20" fill="#333"/>
<circle cx="241.90" cy="250.00" r="1.20" fill="#333"/>
<circle cx="245.67" cy="250.00" r="1.20" fill="#333"/>
<circle cx="249.43" cy="250.00" r="1.20" fill="#333"/>
<circle cx="253.20" cy="250.00" r="1.20" fill="#333"/>
<polyline points="349.40,235.50 432.80,269.54 516.60,279.58" fill="none" stroke="#000" stroke-width="1.25"/>
<polyline points="349.40,235.50 432.80,259.31 516.60,258.56" fill="none" stroke="#0000ff" stroke-width="1.25"/>
<polyline points="349.40,235.50 432.80,263.96 516.60,264.98" fill="none" stroke="#ff0000" stroke-width="1.25"/>
<polyline points="349.40,235.50 432.80,255.96 516.60,256.24" fill="none" stroke="#00c000" stroke-width="1.25"/>
<path d="M349.40 238.16L352.06 233.50L346.74 233.50Z" fill="#0000ff"/>
<rect x="347.02" y="233.12" width="4.75" height="4.75" fill="#ff0000"/>
<path d="M349.40 232.84L352.06 237.50L346.74 237.50Z" fill="#00c000"/>
<circle cx="349.40" cy="235.50" r="2.28" fill="#000"/>
<circle cx="432.80" cy="269.54" r="2.28" fill="#000"/>
<path d="M432.80 261.97L435.46 257.31L430.14 257.31Z" fill="#0000ff"/>
<path d="M432.80 262.56V265.35M430.40 262.56H435.20M430.40 265.35H435.20" stroke="#ff0000" stroke-width="1.00" fill="none"/>
<rect x="430.43" y="261.58" width="4.75" height="4.75" fill="#ff0000"/>
<path d="M432.80 253.17V258.75M430.40 253.17H435.20M430.40 258.75H435.20" stroke="#00c000" stroke-width="1.00" fill="none"/>
<path d="M432.80 253.30L435.46 257.95L430.14 257.95Z" fill="#00c000"/>
<circle cx="516.60" cy="279.58" r="2.28" fill="#000"/>
<path d="M516.60 252.98V264.14M514.20 252.98H519.00M514.20 264.14H519.00" stroke="#0000ff" stroke-width="1.00" fill="none"/>
<path d="M516.60 261.22L519.26 256.57L513.94 256.57Z" fill="#0000ff"/>
<path d="M516.60 259.40V270.56M514.20 259.40H519.00M514.20 270.56H519.00" stroke="#ff0000" stroke-width="1.00" fill="none"/>
<rect x="514.23" y="262.61" width="4.75" height="4.75" fill="#ff0000"/>
<path d="M516.60 254.38V258.10M514.20 254.38H519.00M514.20 258.10H519.00" stroke="#00c000" stroke-width="1.00" fill="none"/>
<path d="M516.60 253.58L519.26 258.23L513.94 258.23Z" fill="#00c000"/>
<path d="M349.40 216.90V328.50H516.60" stroke="#000" stroke-width="1.30" fill="none"/>
<path d="M344.90 328.50H349.40" stroke="#000" stroke-width="1.30"/>
<text x="343.10" y="331.22" font-size="6.80" font-weight="normal" text-anchor="end" fill="#222"  stroke="#222" stroke-width="0.22">0</text>
<path d="M344.90 309.90H349.40" stroke="#000" stroke-width="1.30"/>
<text x="343.10" y="312.62" font-size="6.80" font-weight="normal" text-anchor="end" fill="#222"  stroke="#222" stroke-width="0.22">20</text>
<path d="M344.90 291.30H349.40" stroke="#000" stroke-width="1.30"/>
<text x="343.10" y="294.02" font-size="6.80" font-weight="normal" text-anchor="end" fill="#222"  stroke="#222" stroke-width="0.22">40</text>
<path d="M344.90 272.70H349.40" stroke="#000" stroke-width="1.30"/>
<text x="343.10" y="275.42" font-size="6.80" font-weight="normal" text-anchor="end" fill="#222"  stroke="#222" stroke-width="0.22">60</text>
<path d="M344.90 254.10H349.40" stroke="#000" stroke-width="1.30"/>
<text x="343.10" y="256.82" font-size="6.80" font-weight="normal" text-anchor="end" fill="#222"  stroke="#222" stroke-width="0.22">80</text>
<path d="M344.90 235.50H349.40" stroke="#000" stroke-width="1.30"/>
<text x="343.10" y="238.22" font-size="6.80" font-weight="normal" text-anchor="end" fill="#222"  stroke="#222" stroke-width="0.22">100</text>
<path d="M344.90 216.90H349.40" stroke="#000" stroke-width="1.30"/>
<text x="343.10" y="219.62" font-size="6.80" font-weight="normal" text-anchor="end" fill="#222"  stroke="#222" stroke-width="0.22">120</text>
<path d="M349.40 328.50V333.00" stroke="#000" stroke-width="1.30"/>
<text x="349.40" y="340.84" font-size="6.80" font-weight="normal" text-anchor="middle" fill="#222"  stroke="#222" stroke-width="0.22">0</text>
<path d="M432.80 328.50V333.00" stroke="#000" stroke-width="1.30"/>
<text x="432.80" y="340.84" font-size="6.80" font-weight="normal" text-anchor="middle" fill="#222"  stroke="#222" stroke-width="0.22">24</text>
<path d="M516.60 328.50V333.00" stroke="#000" stroke-width="1.30"/>
<text x="516.60" y="340.84" font-size="6.80" font-weight="normal" text-anchor="middle" fill="#222"  stroke="#222" stroke-width="0.22">48</text>
<path d="M367.50 202.60H380.20" stroke="#000" stroke-width="1.15"/>
<circle cx="373.85" cy="202.60" r="2.28" fill="#000"/>
<path d="M367.50 214.60H380.20" stroke="#ff0000" stroke-width="1.15"/>
<rect x="371.48" y="212.22" width="4.75" height="4.75" fill="#ff0000"/>
<path d="M469.10 200.50H480.90" stroke="#00c000" stroke-width="1.15"/>
<path d="M475.00 197.84L477.66 202.50L472.34 202.50Z" fill="#00c000"/>
<path d="M469.10 214.20H480.90" stroke="#0000ff" stroke-width="1.15"/>
<path d="M475.00 216.86L477.66 212.20L472.34 212.20Z" fill="#0000ff"/>
<circle cx="431.20" cy="248.50" r="1.20" fill="#333"/>
<circle cx="434.80" cy="248.50" r="1.20" fill="#333"/>
<circle cx="511.20" cy="248.50" r="1.20" fill="#333"/>
<circle cx="514.77" cy="248.50" r="1.20" fill="#333"/>
<circle cx="518.33" cy="248.50" r="1.20" fill="#333"/>
<circle cx="521.90" cy="248.50" r="1.20" fill="#333"/>
</svg>
</body></html>
